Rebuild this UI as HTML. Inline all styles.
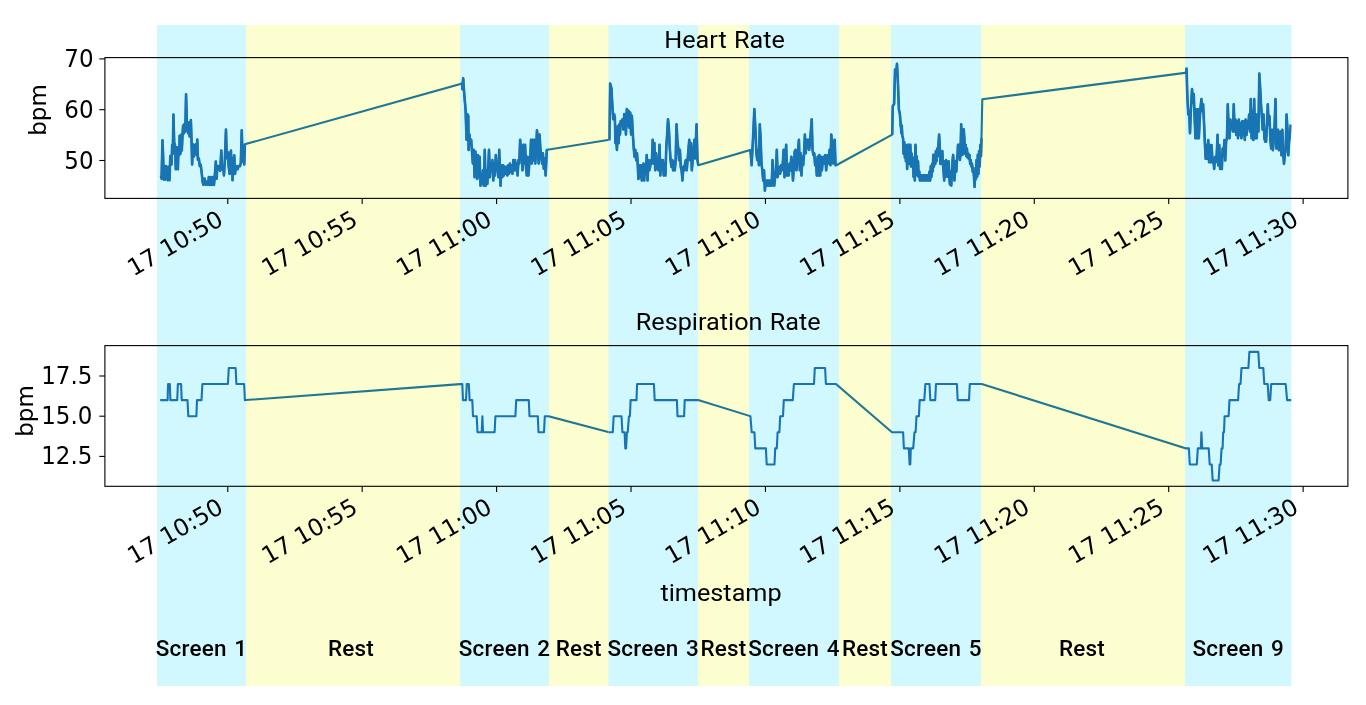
<!DOCTYPE html>
<html><head><meta charset="utf-8"><title>Heart Rate and Respiration Rate</title><style>
html,body{margin:0;padding:0;background:#fff;width:1366px;height:705px;overflow:hidden}
svg{position:absolute;left:0;top:0;display:block}
.dv{font-family:"DejaVu Sans","Liberation Sans",sans-serif;font-size:23px;fill:#000}
.xl{font-size:23.6px}
.rb{font-family:Roboto,"Liberation Sans",sans-serif;fill:#000;font-size:23.8px;letter-spacing:0px;word-spacing:1px}
.bl{font-family:Roboto,"Liberation Sans",sans-serif;fill:#000;font-size:21.6px;font-weight:500;letter-spacing:0.25px;word-spacing:1.5px}
.ax{fill:none;stroke:#000;stroke-width:1.1}
.tk{stroke:#000;stroke-width:1.1}
.ln{fill:none;stroke-width:2.1;stroke-linejoin:round;stroke-linecap:butt}
.ln2{stroke-width:2.6}
</style></head><body>
<svg width="1366" height="705" viewBox="0 0 1366 705">
<rect x="0" y="0" width="1366" height="705" fill="#fff"/>
<defs><clipPath id="cc"><rect x="157" y="25" width="89" height="661"/><rect x="460" y="25" width="89" height="661"/><rect x="608.5" y="25" width="89.5" height="661"/><rect x="749" y="25" width="90" height="661"/><rect x="891" y="25" width="90" height="661"/><rect x="1185" y="25" width="106.4" height="661"/></clipPath><clipPath id="cy"><rect x="246" y="25" width="214" height="661"/><rect x="549" y="25" width="59.5" height="661"/><rect x="698" y="25" width="51" height="661"/><rect x="839" y="25" width="52" height="661"/><rect x="981" y="25" width="204" height="661"/></clipPath></defs>
<g fill="#fcfed0"><rect x="245" y="25" width="216" height="661"/><rect x="548" y="25" width="61.5" height="661"/><rect x="697" y="25" width="53" height="661"/><rect x="838" y="25" width="54" height="661"/><rect x="980" y="25" width="206" height="661"/></g>
<g fill="#d0f8fe"><rect x="157" y="25" width="89" height="661"/><rect x="460" y="25" width="89" height="661"/><rect x="608.5" y="25" width="89.5" height="661"/><rect x="749" y="25" width="90" height="661"/><rect x="891" y="25" width="90" height="661"/><rect x="1185" y="25" width="106.4" height="661"/></g>
<rect class="ax" x="104.9" y="57.6" width="1243" height="140.8"/>
<rect class="ax" x="104.9" y="345.6" width="1243" height="140.7"/>
<line class="tk" x1="227.76" y1="198.4" x2="227.76" y2="204"/>
<text class="dv xl" text-anchor="end" transform="translate(224.76,223.9) rotate(-30)">17 10:50</text>
<line class="tk" x1="362.18" y1="198.4" x2="362.18" y2="204"/>
<text class="dv xl" text-anchor="end" transform="translate(359.18,223.9) rotate(-30)">17 10:55</text>
<line class="tk" x1="496.6" y1="198.4" x2="496.6" y2="204"/>
<text class="dv xl" text-anchor="end" transform="translate(493.6,223.9) rotate(-30)">17 11:00</text>
<line class="tk" x1="631.02" y1="198.4" x2="631.02" y2="204"/>
<text class="dv xl" text-anchor="end" transform="translate(628.02,223.9) rotate(-30)">17 11:05</text>
<line class="tk" x1="765.44" y1="198.4" x2="765.44" y2="204"/>
<text class="dv xl" text-anchor="end" transform="translate(762.44,223.9) rotate(-30)">17 11:10</text>
<line class="tk" x1="899.86" y1="198.4" x2="899.86" y2="204"/>
<text class="dv xl" text-anchor="end" transform="translate(896.86,223.9) rotate(-30)">17 11:15</text>
<line class="tk" x1="1034.28" y1="198.4" x2="1034.28" y2="204"/>
<text class="dv xl" text-anchor="end" transform="translate(1031.28,223.9) rotate(-30)">17 11:20</text>
<line class="tk" x1="1168.7" y1="198.4" x2="1168.7" y2="204"/>
<text class="dv xl" text-anchor="end" transform="translate(1165.7,223.9) rotate(-30)">17 11:25</text>
<line class="tk" x1="1303.12" y1="198.4" x2="1303.12" y2="204"/>
<text class="dv xl" text-anchor="end" transform="translate(1300.12,223.9) rotate(-30)">17 11:30</text>
<line class="tk" x1="227.76" y1="486.3" x2="227.76" y2="491.9"/>
<text class="dv xl" text-anchor="end" transform="translate(224.76,511.8) rotate(-30)">17 10:50</text>
<line class="tk" x1="362.18" y1="486.3" x2="362.18" y2="491.9"/>
<text class="dv xl" text-anchor="end" transform="translate(359.18,511.8) rotate(-30)">17 10:55</text>
<line class="tk" x1="496.6" y1="486.3" x2="496.6" y2="491.9"/>
<text class="dv xl" text-anchor="end" transform="translate(493.6,511.8) rotate(-30)">17 11:00</text>
<line class="tk" x1="631.02" y1="486.3" x2="631.02" y2="491.9"/>
<text class="dv xl" text-anchor="end" transform="translate(628.02,511.8) rotate(-30)">17 11:05</text>
<line class="tk" x1="765.44" y1="486.3" x2="765.44" y2="491.9"/>
<text class="dv xl" text-anchor="end" transform="translate(762.44,511.8) rotate(-30)">17 11:10</text>
<line class="tk" x1="899.86" y1="486.3" x2="899.86" y2="491.9"/>
<text class="dv xl" text-anchor="end" transform="translate(896.86,511.8) rotate(-30)">17 11:15</text>
<line class="tk" x1="1034.28" y1="486.3" x2="1034.28" y2="491.9"/>
<text class="dv xl" text-anchor="end" transform="translate(1031.28,511.8) rotate(-30)">17 11:20</text>
<line class="tk" x1="1168.7" y1="486.3" x2="1168.7" y2="491.9"/>
<text class="dv xl" text-anchor="end" transform="translate(1165.7,511.8) rotate(-30)">17 11:25</text>
<line class="tk" x1="1303.12" y1="486.3" x2="1303.12" y2="491.9"/>
<text class="dv xl" text-anchor="end" transform="translate(1300.12,511.8) rotate(-30)">17 11:30</text>
<line class="tk" x1="99.3" y1="58.9" x2="104.9" y2="58.9"/>
<text class="dv" text-anchor="end" transform="translate(93.6,67.4) scale(1,1.05)">70</text>
<line class="tk" x1="99.3" y1="109.7" x2="104.9" y2="109.7"/>
<text class="dv" text-anchor="end" transform="translate(93.6,118.2) scale(1,1.05)">60</text>
<line class="tk" x1="99.3" y1="160.5" x2="104.9" y2="160.5"/>
<text class="dv" text-anchor="end" transform="translate(93.6,169) scale(1,1.05)">50</text>
<line class="tk" x1="99.3" y1="376" x2="104.9" y2="376"/>
<text class="dv" text-anchor="end" transform="translate(92.4,384) scale(1,1.05)">17.5</text>
<line class="tk" x1="99.3" y1="416.2" x2="104.9" y2="416.2"/>
<text class="dv" text-anchor="end" transform="translate(92.4,424.2) scale(1,1.05)">15.0</text>
<line class="tk" x1="99.3" y1="456.4" x2="104.9" y2="456.4"/>
<text class="dv" text-anchor="end" transform="translate(92.4,464.4) scale(1,1.05)">12.5</text>
<text class="dv" text-anchor="middle" transform="translate(45.5,110) rotate(-90)">bpm</text>
<text class="dv" text-anchor="middle" transform="translate(32.5,411) rotate(-90)">bpm</text>
<text class="rb" text-anchor="middle" transform="translate(724.6,47.8) scale(1.06,1.0)" textLength="113.86" lengthAdjust="spacingAndGlyphs">Heart Rate</text>
<text class="rb" text-anchor="middle" transform="translate(728.2,329.5) scale(1.06,1.0)" textLength="174.43" lengthAdjust="spacingAndGlyphs">Respiration Rate</text>
<text class="rb" text-anchor="middle" transform="translate(721.05,601.4) scale(1.06,1.0)" textLength="114.29" lengthAdjust="spacingAndGlyphs">timestamp</text>
<g clip-path="url(#cc)" stroke="#1974b3">
<polyline class="ln" points="160.93,175.48 161.55,178.6 162.49,140.38 163.11,155.2 163.74,179.38 164.67,166.12 165.3,179.38 166.23,166.12 167.17,169.24 167.79,180.16 168.73,166.9 169.51,180.16 170.29,155.98 171.07,158.32 171.54,164.56 172.16,145.06 172.78,153.64 173.41,114.64 174.34,147.4 174.97,144.28 175.75,169.24 176.37,147.4 177.15,158.32 177.93,169.24 178.4,147.4 179.18,155.2 179.65,135.7 180.43,153.64 181.05,134.92 181.83,150.52 182.46,136.48 183.08,125.56 183.86,133.36 184.49,124 185.27,131.8 186.05,94.36 186.83,120.88 187.61,128.68 188.23,133.36 188.85,122.44 189.63,136.48 190.26,131.8 190.88,120.1 191.51,139.6 192.13,164.56 192.91,144.28 193.69,156.76 194.31,145.84 194.94,150.52 195.72,144.28 196.5,155.2 197.28,139.6 197.9,159.88 198.84,158.32 199.77,166.12 200.71,164.56 201.65,172.36 202.58,181.72 203.36,184.84 204.61,178.6 205.7,184.84 206.95,181.72 208.04,184.84 208.82,177.04 209.91,184.84 210.85,177.04 211.94,184.84 213.19,177.04 213.97,184.84 215.06,172.36 215.84,161.44 216.62,178.6 217.4,166.12 218.18,169.24 218.96,166.12 220.21,170.8 221.3,150.52 222.08,169.24 223.17,166.12 223.95,175.48 224.73,163 225.98,129.46 226.76,158.32 227.7,152.08 228.63,166.12 229.57,173.92 230.2,153.64 230.98,150.52 231.44,172.36 232.07,158.32 232.54,180.16 233.32,159.88 234.25,155.2 235.03,173.92 235.81,167.68 236.75,166.12 237.68,169.24 238.46,166.12 240.02,166.12 240.8,163 241.74,130.24 242.68,161.44 243.46,158.32 244.24,164.56 244.86,144.28 460.9,83.8 462.3,83.6 462.3,89.1 463.16,78.4 464.35,95.43 465.54,109.04 466.56,139.68 467.24,114.15 468.27,115.85 468.61,149.89 469.46,134.57 470.31,143.09 471.16,139.68 472.01,151.6 472.86,163.51 473.71,149.89 474.56,177.13 475.41,151.6 476.26,163.51 477.11,178.83 477.96,155 478.81,177.13 479.66,156.7 480.51,185.64 481.36,173.72 482.21,183.94 483.06,170.32 483.91,185.64 484.76,149.89 485.61,185.64 486.46,170.32 487.31,183.94 488.16,170.32 489.01,149.89 489.86,177.13 490.71,163.51 491.56,170.32 492.41,160.11 493.27,180.53 494.12,163.51 494.97,175.43 495.82,155 496.67,170.32 497.52,165.21 498.37,177.13 499.22,149.89 500.07,170.32 500.58,185.64 501.26,165.21 502.28,177.13 503.13,165.21 503.98,175.43 504.83,166.91 505.68,173.72 506.53,166.91 507.38,175.43 508.23,165.21 509.08,173.72 509.93,163.51 510.78,172.02 511.63,165.21 512.48,173.72 513.33,160.11 514.18,170.32 515.03,160.11 515.88,170.32 516.73,163.51 517.59,175.43 518.44,160.11 519.29,163.51 520.14,139.68 520.99,149.89 521.84,155 522.52,170.32 523.37,144.79 524.22,163.51 525.07,144.79 525.92,166.91 526.77,175.43 527.62,156.7 528.47,175.43 529.32,163.51 530.17,160.11 531.02,139.68 531.87,163.51 532.72,139.68 533.57,160.11 534.42,139.68 535.27,163.51 536.12,149.89 536.97,130.32 537.82,139.68 538.67,163.51 539.52,134.57 540.37,148.19 541.22,156.7 542.07,163.51 542.93,153.3 543.78,168.62 544.63,158.4 545.65,175.43 546.8,149.9 609.4,139.7 610.13,83.51 611.49,88.62 612.34,105.64 613.19,119.26 614.04,114.15 614.89,117.55 615.4,143.09 616.26,139.68 616.94,149.89 617.79,126.06 618.64,143.09 619.32,124.36 620,134.57 620.68,120.96 621.7,124.36 622.55,119.26 623.4,129.47 624.26,114.15 625.11,117.55 625.96,134.57 626.81,109.04 627.66,126.06 628.51,110.74 629.36,127.77 630.21,112.45 631.06,134.57 631.91,115.85 632.77,132.87 633.62,146.49 634.47,156.7 635.32,149.89 636.17,160.11 637.02,153.3 637.87,166.91 638.38,178.83 639.23,165.21 640.09,177.13 640.94,165.21 641.79,180.53 642.64,170.32 643.49,163.51 644.17,180.53 645.02,165.21 645.87,173.72 646.72,155 647.57,180.53 648.43,160.11 649.28,170.32 650.13,166.91 650.98,160.11 651.83,163.51 652.68,139.68 653.53,163.51 654.38,143.09 655.23,170.32 656.09,153.3 656.94,168.62 657.79,158.4 658.64,170.32 659.49,144.79 660.34,175.43 661.19,160.11 662.04,168.62 662.89,160.11 663.74,175.43 664.6,163.51 665.45,175.43 666.3,146.49 667.15,134.57 668,119.26 668.85,127.77 669.7,146.49 670.55,160.11 671.4,166.91 672.26,160.11 673.11,170.32 673.96,161.81 674.81,170.32 675.66,160.11 676.51,124.36 677.36,139.68 678.21,148.19 679.06,160.11 679.91,149.89 680.77,166.91 681.62,170.32 682.47,180.53 683.32,166.91 684.17,170.32 685.02,163.51 685.87,160.11 686.72,170.32 687.57,160.11 688.43,149.89 689.28,139.68 690.13,160.11 690.98,143.09 691.83,170.32 692.68,160.11 693.53,149.89 694.38,139.68 695.23,158.4 696.09,134.57 696.6,124.36 697.45,160.11 698.3,165.21 750.43,149.89 751.62,165.21 752.98,139.68 754.34,109.04 755.53,131.17 756.38,153.3 757.23,160.11 758.09,149.89 758.94,165.21 759.79,124.36 760.64,139.68 761.49,163.51 762.34,170.32 763.19,180.53 764.04,170.32 764.89,190.74 765.74,180.53 766.6,185.64 767.45,180.53 768.3,185.64 769.15,180.53 770,185.64 770.85,180.53 771.7,185.64 772.55,160.11 773.4,177.13 774.26,185.64 775.11,177.13 775.96,170.32 776.81,149.89 777.66,177.13 778.51,170.32 779.36,166.91 780.21,173.72 781.06,165.21 781.91,170.32 782.77,163.51 783.62,149.89 784.47,177.13 785.32,156.7 786.17,144.79 787.02,175.43 787.87,165.21 788.72,175.43 789.57,163.51 790.43,170.32 791.28,156.7 792.13,163.51 792.98,180.53 793.83,166.91 794.68,151.6 795.53,149.89 796.38,170.32 797.23,161.81 798.09,149.89 798.94,139.68 799.79,170.32 800.64,153.3 801.49,175.43 802.34,156.7 803.19,165.21 804.04,153.3 804.89,134.57 805.74,153.3 806.6,139.68 807.45,148.19 808.3,139.68 809.15,149.89 810,143.09 810.85,131.17 811.7,119.26 812.55,149.89 813.4,155 814.26,153.3 815.11,165.21 815.96,160.11 816.81,175.43 817.66,156.7 818.51,175.43 819.36,155 820.21,175.43 821.06,156.7 821.91,170.32 822.77,160.11 823.62,156.7 824.47,163.51 825.32,155 826.17,170.32 827.02,160.11 827.87,155 828.72,163.51 829.57,149.89 830.43,165.21 831.28,134.57 832.13,143.09 832.98,163.51 833.83,149.89 834.68,139.68 835.53,165.21 836.38,165.21 892.2,134.68 892.78,105.96 894.11,104.04 895.07,69.57 896.03,75.32 896.99,63.83 897.94,82.98 898.9,109.79 899.86,113.62 900.81,127.02 900.77,122.99 901.41,133.21 901.79,125.54 902.3,135.76 903.07,138.31 903.58,153.64 904.22,142.15 904.86,157.47 905.37,144.7 905.88,161.3 906.52,148.53 907.16,168.97 907.8,144.7 908.43,160.03 909.07,144.7 909.71,163.86 910.35,144.7 910.99,166.41 911.63,153.64 912.27,161.3 912.9,157.47 913.54,176.63 914.18,163.86 914.82,180.46 915.46,144.7 916.1,166.41 916.74,156.19 917.37,175.35 918.01,161.3 918.65,176.63 919.29,171.52 919.93,180.46 920.57,175.35 921.21,180.46 921.84,175.35 922.48,180.46 923.12,175.35 923.76,180.46 924.4,175.35 925.04,180.46 925.68,175.35 926.31,180.46 926.95,175.35 927.59,180.46 928.23,175.35 928.87,180.46 929.51,171.52 930.15,180.46 930.78,166.41 931.42,176.63 932.06,163.86 932.7,171.52 933.34,154.92 933.98,166.41 934.62,156.19 935.25,163.86 935.89,151.09 936.53,161.3 937.17,148.53 937.81,156.19 938.45,144.7 939.09,134.48 939.72,145.98 940.36,163.86 941,151.09 941.64,161.3 942.28,151.09 942.92,163.86 943.56,171.52 944.19,180.46 944.83,161.3 945.47,176.63 946.11,160.03 946.75,171.52 947.39,176.63 948.03,166.41 948.66,161.3 949.3,176.63 949.94,184.29 950.58,171.52 951.22,185.57 951.86,174.07 952.5,161.3 953.13,154.92 953.77,166.41 954.41,180.46 955.05,171.52 955.69,161.3 956.33,171.52 956.97,160.03 957.6,153.64 957.99,144.7 958.63,154.92 959.26,144.7 959.9,160.03 960.54,153.64 961.18,124.27 961.82,138.31 962.46,154.92 963.1,148.53 963.73,129.37 964.37,138.31 965.01,153.64 965.65,144.7 966.29,156.19 966.93,148.53 967.57,157.47 968.2,153.64 968.84,158.75 969.48,154.92 970.12,163.86 970.76,160.03 971.4,166.41 972.04,163.86 972.67,171.52 973.31,167.69 973.95,176.63 974.59,186.85 975.23,171.52 975.87,179.18 976.51,160.03 977.14,176.63 977.78,154.92 978.42,174.07 979.06,151.09 979.7,166.41 980.34,144.7 980.98,156.19 981.49,138.31 982.3,99.3 1186.07,72.77 1186.58,68.51 1187.26,94.04 1188.28,114.47 1189.13,111.06 1189.99,133.19 1190.84,111.06 1192.03,88.94 1192.88,102.55 1193.73,94.04 1194.58,116.17 1195.44,138.3 1196.29,109.36 1197.14,138.3 1197.99,109.36 1198.84,138.3 1199.69,119.57 1200.54,107.66 1201.4,99.15 1202.25,111.06 1203.1,104.26 1203.95,121.28 1204.8,141.7 1205.65,158.72 1206.51,145.11 1207.36,158.72 1208.21,140 1209.06,162.13 1209.91,145.11 1210.76,162.13 1211.61,145.11 1212.47,162.13 1213.32,158.72 1214.17,168.94 1215.02,157.02 1215.87,162.13 1216.72,155.32 1217.57,134.89 1218.43,165.53 1219.28,145.11 1220.13,168.94 1220.98,155.32 1221.83,168.94 1222.68,148.51 1223.54,155.32 1224.39,140 1225.24,160.43 1226.09,141.7 1226.94,138.3 1227.79,104.26 1228.64,128.09 1229.5,138.3 1230.35,119.57 1231.2,128.09 1232.05,124.68 1232.9,131.49 1233.75,104.26 1234.6,131.49 1235.46,119.57 1236.31,134.89 1237.16,121.28 1238.01,138.3 1238.86,119.57 1239.71,134.89 1240.57,122.98 1241.42,138.3 1242.27,121.28 1243.12,134.89 1243.97,121.28 1244.82,140 1245.67,119.57 1246.53,134.89 1247.38,121.28 1248.23,128.09 1249.08,114.47 1249.93,131.49 1250.78,99.15 1251.63,138.3 1252.49,111.06 1253.34,140 1254.19,99.15 1255.04,138.3 1255.89,114.47 1256.74,138.3 1257.6,114.47 1258.45,131.49 1259.3,73.62 1260.15,87.23 1261,104.26 1261.85,116.17 1262.7,129.79 1263.56,114.47 1264.41,138.3 1265.26,141.7 1266.11,141.7 1266.96,124.68 1267.81,104.26 1268.66,124.68 1269.52,116.17 1270.37,140 1271.22,148.51 1272.07,129.79 1272.92,150.21 1273.77,138.3 1274.63,124.68 1275.48,99.15 1276.33,148.51 1277.18,140 1278.03,129.79 1278.88,150.21 1279.73,145.11 1280.59,131.49 1281.44,155.32 1282.29,129.79 1283.14,151.91 1283.99,163.83 1284.84,155.32 1285.69,148.51 1286.55,114.47 1287.4,128.09 1288.25,155.32 1289.1,141.7 1289.95,134.89 1290.8,124.68"/>
<polyline class="ln ln2" points="160.93,175.48 161.55,178.6 162.49,140.38 163.11,155.2 163.74,179.38 164.67,166.12 165.3,179.38 166.23,166.12 167.17,169.24 167.79,180.16 168.73,166.9 169.51,180.16 170.29,155.98 171.07,158.32 171.54,164.56 172.16,145.06 172.78,153.64 173.41,114.64 174.34,147.4 174.97,144.28 175.75,169.24 176.37,147.4 177.15,158.32 177.93,169.24 178.4,147.4 179.18,155.2 179.65,135.7 180.43,153.64 181.05,134.92 181.83,150.52 182.46,136.48 183.08,125.56 183.86,133.36 184.49,124 185.27,131.8 186.05,94.36 186.83,120.88 187.61,128.68 188.23,133.36 188.85,122.44 189.63,136.48 190.26,131.8 190.88,120.1 191.51,139.6 192.13,164.56 192.91,144.28 193.69,156.76 194.31,145.84 194.94,150.52 195.72,144.28 196.5,155.2 197.28,139.6 197.9,159.88 198.84,158.32 199.77,166.12 200.71,164.56 201.65,172.36 202.58,181.72 203.36,184.84 204.61,178.6 205.7,184.84 206.95,181.72 208.04,184.84 208.82,177.04 209.91,184.84 210.85,177.04 211.94,184.84 213.19,177.04 213.97,184.84 215.06,172.36 215.84,161.44 216.62,178.6 217.4,166.12 218.18,169.24 218.96,166.12 220.21,170.8 221.3,150.52 222.08,169.24 223.17,166.12 223.95,175.48 224.73,163 225.98,129.46 226.76,158.32 227.7,152.08 228.63,166.12 229.57,173.92 230.2,153.64 230.98,150.52 231.44,172.36 232.07,158.32 232.54,180.16 233.32,159.88 234.25,155.2 235.03,173.92 235.81,167.68 236.75,166.12 237.68,169.24 238.46,166.12 240.02,166.12 240.8,163 241.74,130.24 242.68,161.44 243.46,158.32 244.24,164.56 244.86,144.28"/>
<polyline class="ln ln2" points="460.9,83.8 462.3,83.6 462.3,89.1 463.16,78.4 464.35,95.43 465.54,109.04 466.56,139.68 467.24,114.15 468.27,115.85 468.61,149.89 469.46,134.57 470.31,143.09 471.16,139.68 472.01,151.6 472.86,163.51 473.71,149.89 474.56,177.13 475.41,151.6 476.26,163.51 477.11,178.83 477.96,155 478.81,177.13 479.66,156.7 480.51,185.64 481.36,173.72 482.21,183.94 483.06,170.32 483.91,185.64 484.76,149.89 485.61,185.64 486.46,170.32 487.31,183.94 488.16,170.32 489.01,149.89 489.86,177.13 490.71,163.51 491.56,170.32 492.41,160.11 493.27,180.53 494.12,163.51 494.97,175.43 495.82,155 496.67,170.32 497.52,165.21 498.37,177.13 499.22,149.89 500.07,170.32 500.58,185.64 501.26,165.21 502.28,177.13 503.13,165.21 503.98,175.43 504.83,166.91 505.68,173.72 506.53,166.91 507.38,175.43 508.23,165.21 509.08,173.72 509.93,163.51 510.78,172.02 511.63,165.21 512.48,173.72 513.33,160.11 514.18,170.32 515.03,160.11 515.88,170.32 516.73,163.51 517.59,175.43 518.44,160.11 519.29,163.51 520.14,139.68 520.99,149.89 521.84,155 522.52,170.32 523.37,144.79 524.22,163.51 525.07,144.79 525.92,166.91 526.77,175.43 527.62,156.7 528.47,175.43 529.32,163.51 530.17,160.11 531.02,139.68 531.87,163.51 532.72,139.68 533.57,160.11 534.42,139.68 535.27,163.51 536.12,149.89 536.97,130.32 537.82,139.68 538.67,163.51 539.52,134.57 540.37,148.19 541.22,156.7 542.07,163.51 542.93,153.3 543.78,168.62 544.63,158.4 545.65,175.43 546.8,149.9"/>
<polyline class="ln ln2" points="609.4,139.7 610.13,83.51 611.49,88.62 612.34,105.64 613.19,119.26 614.04,114.15 614.89,117.55 615.4,143.09 616.26,139.68 616.94,149.89 617.79,126.06 618.64,143.09 619.32,124.36 620,134.57 620.68,120.96 621.7,124.36 622.55,119.26 623.4,129.47 624.26,114.15 625.11,117.55 625.96,134.57 626.81,109.04 627.66,126.06 628.51,110.74 629.36,127.77 630.21,112.45 631.06,134.57 631.91,115.85 632.77,132.87 633.62,146.49 634.47,156.7 635.32,149.89 636.17,160.11 637.02,153.3 637.87,166.91 638.38,178.83 639.23,165.21 640.09,177.13 640.94,165.21 641.79,180.53 642.64,170.32 643.49,163.51 644.17,180.53 645.02,165.21 645.87,173.72 646.72,155 647.57,180.53 648.43,160.11 649.28,170.32 650.13,166.91 650.98,160.11 651.83,163.51 652.68,139.68 653.53,163.51 654.38,143.09 655.23,170.32 656.09,153.3 656.94,168.62 657.79,158.4 658.64,170.32 659.49,144.79 660.34,175.43 661.19,160.11 662.04,168.62 662.89,160.11 663.74,175.43 664.6,163.51 665.45,175.43 666.3,146.49 667.15,134.57 668,119.26 668.85,127.77 669.7,146.49 670.55,160.11 671.4,166.91 672.26,160.11 673.11,170.32 673.96,161.81 674.81,170.32 675.66,160.11 676.51,124.36 677.36,139.68 678.21,148.19 679.06,160.11 679.91,149.89 680.77,166.91 681.62,170.32 682.47,180.53 683.32,166.91 684.17,170.32 685.02,163.51 685.87,160.11 686.72,170.32 687.57,160.11 688.43,149.89 689.28,139.68 690.13,160.11 690.98,143.09 691.83,170.32 692.68,160.11 693.53,149.89 694.38,139.68 695.23,158.4 696.09,134.57 696.6,124.36 697.45,160.11 698.3,165.21"/>
<polyline class="ln ln2" points="750.43,149.89 751.62,165.21 752.98,139.68 754.34,109.04 755.53,131.17 756.38,153.3 757.23,160.11 758.09,149.89 758.94,165.21 759.79,124.36 760.64,139.68 761.49,163.51 762.34,170.32 763.19,180.53 764.04,170.32 764.89,190.74 765.74,180.53 766.6,185.64 767.45,180.53 768.3,185.64 769.15,180.53 770,185.64 770.85,180.53 771.7,185.64 772.55,160.11 773.4,177.13 774.26,185.64 775.11,177.13 775.96,170.32 776.81,149.89 777.66,177.13 778.51,170.32 779.36,166.91 780.21,173.72 781.06,165.21 781.91,170.32 782.77,163.51 783.62,149.89 784.47,177.13 785.32,156.7 786.17,144.79 787.02,175.43 787.87,165.21 788.72,175.43 789.57,163.51 790.43,170.32 791.28,156.7 792.13,163.51 792.98,180.53 793.83,166.91 794.68,151.6 795.53,149.89 796.38,170.32 797.23,161.81 798.09,149.89 798.94,139.68 799.79,170.32 800.64,153.3 801.49,175.43 802.34,156.7 803.19,165.21 804.04,153.3 804.89,134.57 805.74,153.3 806.6,139.68 807.45,148.19 808.3,139.68 809.15,149.89 810,143.09 810.85,131.17 811.7,119.26 812.55,149.89 813.4,155 814.26,153.3 815.11,165.21 815.96,160.11 816.81,175.43 817.66,156.7 818.51,175.43 819.36,155 820.21,175.43 821.06,156.7 821.91,170.32 822.77,160.11 823.62,156.7 824.47,163.51 825.32,155 826.17,170.32 827.02,160.11 827.87,155 828.72,163.51 829.57,149.89 830.43,165.21 831.28,134.57 832.13,143.09 832.98,163.51 833.83,149.89 834.68,139.68 835.53,165.21 836.38,165.21"/>
<polyline class="ln ln2" points="892.2,134.68 892.78,105.96 894.11,104.04 895.07,69.57 896.03,75.32 896.99,63.83 897.94,82.98 898.9,109.79 899.86,113.62 900.81,127.02 900.77,122.99 901.41,133.21 901.79,125.54 902.3,135.76 903.07,138.31 903.58,153.64 904.22,142.15 904.86,157.47 905.37,144.7 905.88,161.3 906.52,148.53 907.16,168.97 907.8,144.7 908.43,160.03 909.07,144.7 909.71,163.86 910.35,144.7 910.99,166.41 911.63,153.64 912.27,161.3 912.9,157.47 913.54,176.63 914.18,163.86 914.82,180.46 915.46,144.7 916.1,166.41 916.74,156.19 917.37,175.35 918.01,161.3 918.65,176.63 919.29,171.52 919.93,180.46 920.57,175.35 921.21,180.46 921.84,175.35 922.48,180.46 923.12,175.35 923.76,180.46 924.4,175.35 925.04,180.46 925.68,175.35 926.31,180.46 926.95,175.35 927.59,180.46 928.23,175.35 928.87,180.46 929.51,171.52 930.15,180.46 930.78,166.41 931.42,176.63 932.06,163.86 932.7,171.52 933.34,154.92 933.98,166.41 934.62,156.19 935.25,163.86 935.89,151.09 936.53,161.3 937.17,148.53 937.81,156.19 938.45,144.7 939.09,134.48 939.72,145.98 940.36,163.86 941,151.09 941.64,161.3 942.28,151.09 942.92,163.86 943.56,171.52 944.19,180.46 944.83,161.3 945.47,176.63 946.11,160.03 946.75,171.52 947.39,176.63 948.03,166.41 948.66,161.3 949.3,176.63 949.94,184.29 950.58,171.52 951.22,185.57 951.86,174.07 952.5,161.3 953.13,154.92 953.77,166.41 954.41,180.46 955.05,171.52 955.69,161.3 956.33,171.52 956.97,160.03 957.6,153.64 957.99,144.7 958.63,154.92 959.26,144.7 959.9,160.03 960.54,153.64 961.18,124.27 961.82,138.31 962.46,154.92 963.1,148.53 963.73,129.37 964.37,138.31 965.01,153.64 965.65,144.7 966.29,156.19 966.93,148.53 967.57,157.47 968.2,153.64 968.84,158.75 969.48,154.92 970.12,163.86 970.76,160.03 971.4,166.41 972.04,163.86 972.67,171.52 973.31,167.69 973.95,176.63 974.59,186.85 975.23,171.52 975.87,179.18 976.51,160.03 977.14,176.63 977.78,154.92 978.42,174.07 979.06,151.09 979.7,166.41 980.34,144.7 980.98,156.19 981.49,138.31"/>
<polyline class="ln ln2" points="1186.07,72.77 1186.58,68.51 1187.26,94.04 1188.28,114.47 1189.13,111.06 1189.99,133.19 1190.84,111.06 1192.03,88.94 1192.88,102.55 1193.73,94.04 1194.58,116.17 1195.44,138.3 1196.29,109.36 1197.14,138.3 1197.99,109.36 1198.84,138.3 1199.69,119.57 1200.54,107.66 1201.4,99.15 1202.25,111.06 1203.1,104.26 1203.95,121.28 1204.8,141.7 1205.65,158.72 1206.51,145.11 1207.36,158.72 1208.21,140 1209.06,162.13 1209.91,145.11 1210.76,162.13 1211.61,145.11 1212.47,162.13 1213.32,158.72 1214.17,168.94 1215.02,157.02 1215.87,162.13 1216.72,155.32 1217.57,134.89 1218.43,165.53 1219.28,145.11 1220.13,168.94 1220.98,155.32 1221.83,168.94 1222.68,148.51 1223.54,155.32 1224.39,140 1225.24,160.43 1226.09,141.7 1226.94,138.3 1227.79,104.26 1228.64,128.09 1229.5,138.3 1230.35,119.57 1231.2,128.09 1232.05,124.68 1232.9,131.49 1233.75,104.26 1234.6,131.49 1235.46,119.57 1236.31,134.89 1237.16,121.28 1238.01,138.3 1238.86,119.57 1239.71,134.89 1240.57,122.98 1241.42,138.3 1242.27,121.28 1243.12,134.89 1243.97,121.28 1244.82,140 1245.67,119.57 1246.53,134.89 1247.38,121.28 1248.23,128.09 1249.08,114.47 1249.93,131.49 1250.78,99.15 1251.63,138.3 1252.49,111.06 1253.34,140 1254.19,99.15 1255.04,138.3 1255.89,114.47 1256.74,138.3 1257.6,114.47 1258.45,131.49 1259.3,73.62 1260.15,87.23 1261,104.26 1261.85,116.17 1262.7,129.79 1263.56,114.47 1264.41,138.3 1265.26,141.7 1266.11,141.7 1266.96,124.68 1267.81,104.26 1268.66,124.68 1269.52,116.17 1270.37,140 1271.22,148.51 1272.07,129.79 1272.92,150.21 1273.77,138.3 1274.63,124.68 1275.48,99.15 1276.33,148.51 1277.18,140 1278.03,129.79 1278.88,150.21 1279.73,145.11 1280.59,131.49 1281.44,155.32 1282.29,129.79 1283.14,151.91 1283.99,163.83 1284.84,155.32 1285.69,148.51 1286.55,114.47 1287.4,128.09 1288.25,155.32 1289.1,141.7 1289.95,134.89 1290.8,124.68"/>
<polyline class="ln" points="160.2,400.12 167.6,400.12 168.1,384.04 169.8,384.04 170.4,400.12 177.2,400.12 177.9,384.04 181.1,384.04 181.7,400.12 187.5,400.12 188.3,416.2 196.4,416.2 197,400.12 201.5,400.12 202.4,384.04 227.9,384.04 228.8,367.96 235.6,367.96 236.4,384.04 244.1,384.04 244.9,400.12 461.3,384.04 462.3,384.04 463,400.12 466,400.12 466.8,384.04 468.8,384.04 469.6,400.12 472.3,400.12 473,416.2 476.7,416.2 477.5,432.28 481.7,432.28 482.4,416.2 483,432.28 494.6,432.28 495.4,416.2 515.4,416.2 516.2,400.12 528.8,400.12 529.5,416.2 537.8,416.2 538.5,432.28 544,432.28 544.8,416.2 548.2,416.2 609.1,432.28 612.8,432.28 613.7,416.2 621.5,416.2 622.4,432.28 624.6,432.28 625.3,448.36 626.1,448.36 626.9,432.28 627.7,432.28 629,416.2 629.9,416.2 630.6,400.12 636.5,400.12 637.1,384.04 653.9,384.04 654.7,400.12 676.9,400.12 677.5,416.2 684.1,416.2 684.7,400.12 698.1,400.12 750.4,416.2 751.7,432.28 754.4,432.28 755.3,448.36 765.9,448.36 766.7,464.44 774.5,464.44 775.2,448.36 776.8,448.36 777.6,432.28 779.4,432.28 780.2,416.2 783,416.2 783.8,400.12 792.8,400.12 793.9,384.04 814,384.04 814.8,367.96 825.1,367.96 825.9,384.04 836,384.04 892,432.28 903.1,432.28 903.9,448.36 908.8,448.36 909.6,464.44 910.3,464.44 910.8,448.36 913.2,448.36 914.5,432.28 915.6,432.28 916.5,416.2 918.9,416.2 919.7,400.12 924.3,400.12 925.4,384.04 929.5,384.04 930.3,400.12 935.2,400.12 936,384.04 956.9,384.04 957.7,400.12 969,400.12 969.8,384.04 981.7,384.04 1185.9,448.36 1188.9,448.36 1189.8,464.44 1196.8,464.44 1197.8,448.36 1200.8,448.36 1201.4,432.28 1202.2,448.36 1208.7,448.36 1209.7,464.44 1211.7,464.44 1212.7,480.52 1218.6,480.52 1219.6,464.44 1220.6,464.44 1221.6,448.36 1222.6,448.36 1223.2,432.28 1224,432.28 1224.6,416.2 1228.6,416.2 1229.5,400.12 1238.1,400.12 1239.1,384.04 1240.5,384.04 1241.5,367.96 1248.4,367.96 1249.4,351.88 1258.3,351.88 1259.3,367.96 1263.3,367.96 1264.3,384.04 1267.7,384.04 1268.7,400.12 1270.2,400.12 1271.2,384.04 1285.7,384.04 1287.1,400.12 1291.5,400.12"/>
</g>
<g clip-path="url(#cy)" stroke="#1f7793">
<polyline class="ln" points="160.93,175.48 161.55,178.6 162.49,140.38 163.11,155.2 163.74,179.38 164.67,166.12 165.3,179.38 166.23,166.12 167.17,169.24 167.79,180.16 168.73,166.9 169.51,180.16 170.29,155.98 171.07,158.32 171.54,164.56 172.16,145.06 172.78,153.64 173.41,114.64 174.34,147.4 174.97,144.28 175.75,169.24 176.37,147.4 177.15,158.32 177.93,169.24 178.4,147.4 179.18,155.2 179.65,135.7 180.43,153.64 181.05,134.92 181.83,150.52 182.46,136.48 183.08,125.56 183.86,133.36 184.49,124 185.27,131.8 186.05,94.36 186.83,120.88 187.61,128.68 188.23,133.36 188.85,122.44 189.63,136.48 190.26,131.8 190.88,120.1 191.51,139.6 192.13,164.56 192.91,144.28 193.69,156.76 194.31,145.84 194.94,150.52 195.72,144.28 196.5,155.2 197.28,139.6 197.9,159.88 198.84,158.32 199.77,166.12 200.71,164.56 201.65,172.36 202.58,181.72 203.36,184.84 204.61,178.6 205.7,184.84 206.95,181.72 208.04,184.84 208.82,177.04 209.91,184.84 210.85,177.04 211.94,184.84 213.19,177.04 213.97,184.84 215.06,172.36 215.84,161.44 216.62,178.6 217.4,166.12 218.18,169.24 218.96,166.12 220.21,170.8 221.3,150.52 222.08,169.24 223.17,166.12 223.95,175.48 224.73,163 225.98,129.46 226.76,158.32 227.7,152.08 228.63,166.12 229.57,173.92 230.2,153.64 230.98,150.52 231.44,172.36 232.07,158.32 232.54,180.16 233.32,159.88 234.25,155.2 235.03,173.92 235.81,167.68 236.75,166.12 237.68,169.24 238.46,166.12 240.02,166.12 240.8,163 241.74,130.24 242.68,161.44 243.46,158.32 244.24,164.56 244.86,144.28 460.9,83.8 462.3,83.6 462.3,89.1 463.16,78.4 464.35,95.43 465.54,109.04 466.56,139.68 467.24,114.15 468.27,115.85 468.61,149.89 469.46,134.57 470.31,143.09 471.16,139.68 472.01,151.6 472.86,163.51 473.71,149.89 474.56,177.13 475.41,151.6 476.26,163.51 477.11,178.83 477.96,155 478.81,177.13 479.66,156.7 480.51,185.64 481.36,173.72 482.21,183.94 483.06,170.32 483.91,185.64 484.76,149.89 485.61,185.64 486.46,170.32 487.31,183.94 488.16,170.32 489.01,149.89 489.86,177.13 490.71,163.51 491.56,170.32 492.41,160.11 493.27,180.53 494.12,163.51 494.97,175.43 495.82,155 496.67,170.32 497.52,165.21 498.37,177.13 499.22,149.89 500.07,170.32 500.58,185.64 501.26,165.21 502.28,177.13 503.13,165.21 503.98,175.43 504.83,166.91 505.68,173.72 506.53,166.91 507.38,175.43 508.23,165.21 509.08,173.72 509.93,163.51 510.78,172.02 511.63,165.21 512.48,173.72 513.33,160.11 514.18,170.32 515.03,160.11 515.88,170.32 516.73,163.51 517.59,175.43 518.44,160.11 519.29,163.51 520.14,139.68 520.99,149.89 521.84,155 522.52,170.32 523.37,144.79 524.22,163.51 525.07,144.79 525.92,166.91 526.77,175.43 527.62,156.7 528.47,175.43 529.32,163.51 530.17,160.11 531.02,139.68 531.87,163.51 532.72,139.68 533.57,160.11 534.42,139.68 535.27,163.51 536.12,149.89 536.97,130.32 537.82,139.68 538.67,163.51 539.52,134.57 540.37,148.19 541.22,156.7 542.07,163.51 542.93,153.3 543.78,168.62 544.63,158.4 545.65,175.43 546.8,149.9 609.4,139.7 610.13,83.51 611.49,88.62 612.34,105.64 613.19,119.26 614.04,114.15 614.89,117.55 615.4,143.09 616.26,139.68 616.94,149.89 617.79,126.06 618.64,143.09 619.32,124.36 620,134.57 620.68,120.96 621.7,124.36 622.55,119.26 623.4,129.47 624.26,114.15 625.11,117.55 625.96,134.57 626.81,109.04 627.66,126.06 628.51,110.74 629.36,127.77 630.21,112.45 631.06,134.57 631.91,115.85 632.77,132.87 633.62,146.49 634.47,156.7 635.32,149.89 636.17,160.11 637.02,153.3 637.87,166.91 638.38,178.83 639.23,165.21 640.09,177.13 640.94,165.21 641.79,180.53 642.64,170.32 643.49,163.51 644.17,180.53 645.02,165.21 645.87,173.72 646.72,155 647.57,180.53 648.43,160.11 649.28,170.32 650.13,166.91 650.98,160.11 651.83,163.51 652.68,139.68 653.53,163.51 654.38,143.09 655.23,170.32 656.09,153.3 656.94,168.62 657.79,158.4 658.64,170.32 659.49,144.79 660.34,175.43 661.19,160.11 662.04,168.62 662.89,160.11 663.74,175.43 664.6,163.51 665.45,175.43 666.3,146.49 667.15,134.57 668,119.26 668.85,127.77 669.7,146.49 670.55,160.11 671.4,166.91 672.26,160.11 673.11,170.32 673.96,161.81 674.81,170.32 675.66,160.11 676.51,124.36 677.36,139.68 678.21,148.19 679.06,160.11 679.91,149.89 680.77,166.91 681.62,170.32 682.47,180.53 683.32,166.91 684.17,170.32 685.02,163.51 685.87,160.11 686.72,170.32 687.57,160.11 688.43,149.89 689.28,139.68 690.13,160.11 690.98,143.09 691.83,170.32 692.68,160.11 693.53,149.89 694.38,139.68 695.23,158.4 696.09,134.57 696.6,124.36 697.45,160.11 698.3,165.21 750.43,149.89 751.62,165.21 752.98,139.68 754.34,109.04 755.53,131.17 756.38,153.3 757.23,160.11 758.09,149.89 758.94,165.21 759.79,124.36 760.64,139.68 761.49,163.51 762.34,170.32 763.19,180.53 764.04,170.32 764.89,190.74 765.74,180.53 766.6,185.64 767.45,180.53 768.3,185.64 769.15,180.53 770,185.64 770.85,180.53 771.7,185.64 772.55,160.11 773.4,177.13 774.26,185.64 775.11,177.13 775.96,170.32 776.81,149.89 777.66,177.13 778.51,170.32 779.36,166.91 780.21,173.72 781.06,165.21 781.91,170.32 782.77,163.51 783.62,149.89 784.47,177.13 785.32,156.7 786.17,144.79 787.02,175.43 787.87,165.21 788.72,175.43 789.57,163.51 790.43,170.32 791.28,156.7 792.13,163.51 792.98,180.53 793.83,166.91 794.68,151.6 795.53,149.89 796.38,170.32 797.23,161.81 798.09,149.89 798.94,139.68 799.79,170.32 800.64,153.3 801.49,175.43 802.34,156.7 803.19,165.21 804.04,153.3 804.89,134.57 805.74,153.3 806.6,139.68 807.45,148.19 808.3,139.68 809.15,149.89 810,143.09 810.85,131.17 811.7,119.26 812.55,149.89 813.4,155 814.26,153.3 815.11,165.21 815.96,160.11 816.81,175.43 817.66,156.7 818.51,175.43 819.36,155 820.21,175.43 821.06,156.7 821.91,170.32 822.77,160.11 823.62,156.7 824.47,163.51 825.32,155 826.17,170.32 827.02,160.11 827.87,155 828.72,163.51 829.57,149.89 830.43,165.21 831.28,134.57 832.13,143.09 832.98,163.51 833.83,149.89 834.68,139.68 835.53,165.21 836.38,165.21 892.2,134.68 892.78,105.96 894.11,104.04 895.07,69.57 896.03,75.32 896.99,63.83 897.94,82.98 898.9,109.79 899.86,113.62 900.81,127.02 900.77,122.99 901.41,133.21 901.79,125.54 902.3,135.76 903.07,138.31 903.58,153.64 904.22,142.15 904.86,157.47 905.37,144.7 905.88,161.3 906.52,148.53 907.16,168.97 907.8,144.7 908.43,160.03 909.07,144.7 909.71,163.86 910.35,144.7 910.99,166.41 911.63,153.64 912.27,161.3 912.9,157.47 913.54,176.63 914.18,163.86 914.82,180.46 915.46,144.7 916.1,166.41 916.74,156.19 917.37,175.35 918.01,161.3 918.65,176.63 919.29,171.52 919.93,180.46 920.57,175.35 921.21,180.46 921.84,175.35 922.48,180.46 923.12,175.35 923.76,180.46 924.4,175.35 925.04,180.46 925.68,175.35 926.31,180.46 926.95,175.35 927.59,180.46 928.23,175.35 928.87,180.46 929.51,171.52 930.15,180.46 930.78,166.41 931.42,176.63 932.06,163.86 932.7,171.52 933.34,154.92 933.98,166.41 934.62,156.19 935.25,163.86 935.89,151.09 936.53,161.3 937.17,148.53 937.81,156.19 938.45,144.7 939.09,134.48 939.72,145.98 940.36,163.86 941,151.09 941.64,161.3 942.28,151.09 942.92,163.86 943.56,171.52 944.19,180.46 944.83,161.3 945.47,176.63 946.11,160.03 946.75,171.52 947.39,176.63 948.03,166.41 948.66,161.3 949.3,176.63 949.94,184.29 950.58,171.52 951.22,185.57 951.86,174.07 952.5,161.3 953.13,154.92 953.77,166.41 954.41,180.46 955.05,171.52 955.69,161.3 956.33,171.52 956.97,160.03 957.6,153.64 957.99,144.7 958.63,154.92 959.26,144.7 959.9,160.03 960.54,153.64 961.18,124.27 961.82,138.31 962.46,154.92 963.1,148.53 963.73,129.37 964.37,138.31 965.01,153.64 965.65,144.7 966.29,156.19 966.93,148.53 967.57,157.47 968.2,153.64 968.84,158.75 969.48,154.92 970.12,163.86 970.76,160.03 971.4,166.41 972.04,163.86 972.67,171.52 973.31,167.69 973.95,176.63 974.59,186.85 975.23,171.52 975.87,179.18 976.51,160.03 977.14,176.63 977.78,154.92 978.42,174.07 979.06,151.09 979.7,166.41 980.34,144.7 980.98,156.19 981.49,138.31 982.3,99.3 1186.07,72.77 1186.58,68.51 1187.26,94.04 1188.28,114.47 1189.13,111.06 1189.99,133.19 1190.84,111.06 1192.03,88.94 1192.88,102.55 1193.73,94.04 1194.58,116.17 1195.44,138.3 1196.29,109.36 1197.14,138.3 1197.99,109.36 1198.84,138.3 1199.69,119.57 1200.54,107.66 1201.4,99.15 1202.25,111.06 1203.1,104.26 1203.95,121.28 1204.8,141.7 1205.65,158.72 1206.51,145.11 1207.36,158.72 1208.21,140 1209.06,162.13 1209.91,145.11 1210.76,162.13 1211.61,145.11 1212.47,162.13 1213.32,158.72 1214.17,168.94 1215.02,157.02 1215.87,162.13 1216.72,155.32 1217.57,134.89 1218.43,165.53 1219.28,145.11 1220.13,168.94 1220.98,155.32 1221.83,168.94 1222.68,148.51 1223.54,155.32 1224.39,140 1225.24,160.43 1226.09,141.7 1226.94,138.3 1227.79,104.26 1228.64,128.09 1229.5,138.3 1230.35,119.57 1231.2,128.09 1232.05,124.68 1232.9,131.49 1233.75,104.26 1234.6,131.49 1235.46,119.57 1236.31,134.89 1237.16,121.28 1238.01,138.3 1238.86,119.57 1239.71,134.89 1240.57,122.98 1241.42,138.3 1242.27,121.28 1243.12,134.89 1243.97,121.28 1244.82,140 1245.67,119.57 1246.53,134.89 1247.38,121.28 1248.23,128.09 1249.08,114.47 1249.93,131.49 1250.78,99.15 1251.63,138.3 1252.49,111.06 1253.34,140 1254.19,99.15 1255.04,138.3 1255.89,114.47 1256.74,138.3 1257.6,114.47 1258.45,131.49 1259.3,73.62 1260.15,87.23 1261,104.26 1261.85,116.17 1262.7,129.79 1263.56,114.47 1264.41,138.3 1265.26,141.7 1266.11,141.7 1266.96,124.68 1267.81,104.26 1268.66,124.68 1269.52,116.17 1270.37,140 1271.22,148.51 1272.07,129.79 1272.92,150.21 1273.77,138.3 1274.63,124.68 1275.48,99.15 1276.33,148.51 1277.18,140 1278.03,129.79 1278.88,150.21 1279.73,145.11 1280.59,131.49 1281.44,155.32 1282.29,129.79 1283.14,151.91 1283.99,163.83 1284.84,155.32 1285.69,148.51 1286.55,114.47 1287.4,128.09 1288.25,155.32 1289.1,141.7 1289.95,134.89 1290.8,124.68"/>
<polyline class="ln ln2" points="160.93,175.48 161.55,178.6 162.49,140.38 163.11,155.2 163.74,179.38 164.67,166.12 165.3,179.38 166.23,166.12 167.17,169.24 167.79,180.16 168.73,166.9 169.51,180.16 170.29,155.98 171.07,158.32 171.54,164.56 172.16,145.06 172.78,153.64 173.41,114.64 174.34,147.4 174.97,144.28 175.75,169.24 176.37,147.4 177.15,158.32 177.93,169.24 178.4,147.4 179.18,155.2 179.65,135.7 180.43,153.64 181.05,134.92 181.83,150.52 182.46,136.48 183.08,125.56 183.86,133.36 184.49,124 185.27,131.8 186.05,94.36 186.83,120.88 187.61,128.68 188.23,133.36 188.85,122.44 189.63,136.48 190.26,131.8 190.88,120.1 191.51,139.6 192.13,164.56 192.91,144.28 193.69,156.76 194.31,145.84 194.94,150.52 195.72,144.28 196.5,155.2 197.28,139.6 197.9,159.88 198.84,158.32 199.77,166.12 200.71,164.56 201.65,172.36 202.58,181.72 203.36,184.84 204.61,178.6 205.7,184.84 206.95,181.72 208.04,184.84 208.82,177.04 209.91,184.84 210.85,177.04 211.94,184.84 213.19,177.04 213.97,184.84 215.06,172.36 215.84,161.44 216.62,178.6 217.4,166.12 218.18,169.24 218.96,166.12 220.21,170.8 221.3,150.52 222.08,169.24 223.17,166.12 223.95,175.48 224.73,163 225.98,129.46 226.76,158.32 227.7,152.08 228.63,166.12 229.57,173.92 230.2,153.64 230.98,150.52 231.44,172.36 232.07,158.32 232.54,180.16 233.32,159.88 234.25,155.2 235.03,173.92 235.81,167.68 236.75,166.12 237.68,169.24 238.46,166.12 240.02,166.12 240.8,163 241.74,130.24 242.68,161.44 243.46,158.32 244.24,164.56 244.86,144.28"/>
<polyline class="ln ln2" points="460.9,83.8 462.3,83.6 462.3,89.1 463.16,78.4 464.35,95.43 465.54,109.04 466.56,139.68 467.24,114.15 468.27,115.85 468.61,149.89 469.46,134.57 470.31,143.09 471.16,139.68 472.01,151.6 472.86,163.51 473.71,149.89 474.56,177.13 475.41,151.6 476.26,163.51 477.11,178.83 477.96,155 478.81,177.13 479.66,156.7 480.51,185.64 481.36,173.72 482.21,183.94 483.06,170.32 483.91,185.64 484.76,149.89 485.61,185.64 486.46,170.32 487.31,183.94 488.16,170.32 489.01,149.89 489.86,177.13 490.71,163.51 491.56,170.32 492.41,160.11 493.27,180.53 494.12,163.51 494.97,175.43 495.82,155 496.67,170.32 497.52,165.21 498.37,177.13 499.22,149.89 500.07,170.32 500.58,185.64 501.26,165.21 502.28,177.13 503.13,165.21 503.98,175.43 504.83,166.91 505.68,173.72 506.53,166.91 507.38,175.43 508.23,165.21 509.08,173.72 509.93,163.51 510.78,172.02 511.63,165.21 512.48,173.72 513.33,160.11 514.18,170.32 515.03,160.11 515.88,170.32 516.73,163.51 517.59,175.43 518.44,160.11 519.29,163.51 520.14,139.68 520.99,149.89 521.84,155 522.52,170.32 523.37,144.79 524.22,163.51 525.07,144.79 525.92,166.91 526.77,175.43 527.62,156.7 528.47,175.43 529.32,163.51 530.17,160.11 531.02,139.68 531.87,163.51 532.72,139.68 533.57,160.11 534.42,139.68 535.27,163.51 536.12,149.89 536.97,130.32 537.82,139.68 538.67,163.51 539.52,134.57 540.37,148.19 541.22,156.7 542.07,163.51 542.93,153.3 543.78,168.62 544.63,158.4 545.65,175.43 546.8,149.9"/>
<polyline class="ln ln2" points="609.4,139.7 610.13,83.51 611.49,88.62 612.34,105.64 613.19,119.26 614.04,114.15 614.89,117.55 615.4,143.09 616.26,139.68 616.94,149.89 617.79,126.06 618.64,143.09 619.32,124.36 620,134.57 620.68,120.96 621.7,124.36 622.55,119.26 623.4,129.47 624.26,114.15 625.11,117.55 625.96,134.57 626.81,109.04 627.66,126.06 628.51,110.74 629.36,127.77 630.21,112.45 631.06,134.57 631.91,115.85 632.77,132.87 633.62,146.49 634.47,156.7 635.32,149.89 636.17,160.11 637.02,153.3 637.87,166.91 638.38,178.83 639.23,165.21 640.09,177.13 640.94,165.21 641.79,180.53 642.64,170.32 643.49,163.51 644.17,180.53 645.02,165.21 645.87,173.72 646.72,155 647.57,180.53 648.43,160.11 649.28,170.32 650.13,166.91 650.98,160.11 651.83,163.51 652.68,139.68 653.53,163.51 654.38,143.09 655.23,170.32 656.09,153.3 656.94,168.62 657.79,158.4 658.64,170.32 659.49,144.79 660.34,175.43 661.19,160.11 662.04,168.62 662.89,160.11 663.74,175.43 664.6,163.51 665.45,175.43 666.3,146.49 667.15,134.57 668,119.26 668.85,127.77 669.7,146.49 670.55,160.11 671.4,166.91 672.26,160.11 673.11,170.32 673.96,161.81 674.81,170.32 675.66,160.11 676.51,124.36 677.36,139.68 678.21,148.19 679.06,160.11 679.91,149.89 680.77,166.91 681.62,170.32 682.47,180.53 683.32,166.91 684.17,170.32 685.02,163.51 685.87,160.11 686.72,170.32 687.57,160.11 688.43,149.89 689.28,139.68 690.13,160.11 690.98,143.09 691.83,170.32 692.68,160.11 693.53,149.89 694.38,139.68 695.23,158.4 696.09,134.57 696.6,124.36 697.45,160.11 698.3,165.21"/>
<polyline class="ln ln2" points="750.43,149.89 751.62,165.21 752.98,139.68 754.34,109.04 755.53,131.17 756.38,153.3 757.23,160.11 758.09,149.89 758.94,165.21 759.79,124.36 760.64,139.68 761.49,163.51 762.34,170.32 763.19,180.53 764.04,170.32 764.89,190.74 765.74,180.53 766.6,185.64 767.45,180.53 768.3,185.64 769.15,180.53 770,185.64 770.85,180.53 771.7,185.64 772.55,160.11 773.4,177.13 774.26,185.64 775.11,177.13 775.96,170.32 776.81,149.89 777.66,177.13 778.51,170.32 779.36,166.91 780.21,173.72 781.06,165.21 781.91,170.32 782.77,163.51 783.62,149.89 784.47,177.13 785.32,156.7 786.17,144.79 787.02,175.43 787.87,165.21 788.72,175.43 789.57,163.51 790.43,170.32 791.28,156.7 792.13,163.51 792.98,180.53 793.83,166.91 794.68,151.6 795.53,149.89 796.38,170.32 797.23,161.81 798.09,149.89 798.94,139.68 799.79,170.32 800.64,153.3 801.49,175.43 802.34,156.7 803.19,165.21 804.04,153.3 804.89,134.57 805.74,153.3 806.6,139.68 807.45,148.19 808.3,139.68 809.15,149.89 810,143.09 810.85,131.17 811.7,119.26 812.55,149.89 813.4,155 814.26,153.3 815.11,165.21 815.96,160.11 816.81,175.43 817.66,156.7 818.51,175.43 819.36,155 820.21,175.43 821.06,156.7 821.91,170.32 822.77,160.11 823.62,156.7 824.47,163.51 825.32,155 826.17,170.32 827.02,160.11 827.87,155 828.72,163.51 829.57,149.89 830.43,165.21 831.28,134.57 832.13,143.09 832.98,163.51 833.83,149.89 834.68,139.68 835.53,165.21 836.38,165.21"/>
<polyline class="ln ln2" points="892.2,134.68 892.78,105.96 894.11,104.04 895.07,69.57 896.03,75.32 896.99,63.83 897.94,82.98 898.9,109.79 899.86,113.62 900.81,127.02 900.77,122.99 901.41,133.21 901.79,125.54 902.3,135.76 903.07,138.31 903.58,153.64 904.22,142.15 904.86,157.47 905.37,144.7 905.88,161.3 906.52,148.53 907.16,168.97 907.8,144.7 908.43,160.03 909.07,144.7 909.71,163.86 910.35,144.7 910.99,166.41 911.63,153.64 912.27,161.3 912.9,157.47 913.54,176.63 914.18,163.86 914.82,180.46 915.46,144.7 916.1,166.41 916.74,156.19 917.37,175.35 918.01,161.3 918.65,176.63 919.29,171.52 919.93,180.46 920.57,175.35 921.21,180.46 921.84,175.35 922.48,180.46 923.12,175.35 923.76,180.46 924.4,175.35 925.04,180.46 925.68,175.35 926.31,180.46 926.95,175.35 927.59,180.46 928.23,175.35 928.87,180.46 929.51,171.52 930.15,180.46 930.78,166.41 931.42,176.63 932.06,163.86 932.7,171.52 933.34,154.92 933.98,166.41 934.62,156.19 935.25,163.86 935.89,151.09 936.53,161.3 937.17,148.53 937.81,156.19 938.45,144.7 939.09,134.48 939.72,145.98 940.36,163.86 941,151.09 941.64,161.3 942.28,151.09 942.92,163.86 943.56,171.52 944.19,180.46 944.83,161.3 945.47,176.63 946.11,160.03 946.75,171.52 947.39,176.63 948.03,166.41 948.66,161.3 949.3,176.63 949.94,184.29 950.58,171.52 951.22,185.57 951.86,174.07 952.5,161.3 953.13,154.92 953.77,166.41 954.41,180.46 955.05,171.52 955.69,161.3 956.33,171.52 956.97,160.03 957.6,153.64 957.99,144.7 958.63,154.92 959.26,144.7 959.9,160.03 960.54,153.64 961.18,124.27 961.82,138.31 962.46,154.92 963.1,148.53 963.73,129.37 964.37,138.31 965.01,153.64 965.65,144.7 966.29,156.19 966.93,148.53 967.57,157.47 968.2,153.64 968.84,158.75 969.48,154.92 970.12,163.86 970.76,160.03 971.4,166.41 972.04,163.86 972.67,171.52 973.31,167.69 973.95,176.63 974.59,186.85 975.23,171.52 975.87,179.18 976.51,160.03 977.14,176.63 977.78,154.92 978.42,174.07 979.06,151.09 979.7,166.41 980.34,144.7 980.98,156.19 981.49,138.31"/>
<polyline class="ln ln2" points="1186.07,72.77 1186.58,68.51 1187.26,94.04 1188.28,114.47 1189.13,111.06 1189.99,133.19 1190.84,111.06 1192.03,88.94 1192.88,102.55 1193.73,94.04 1194.58,116.17 1195.44,138.3 1196.29,109.36 1197.14,138.3 1197.99,109.36 1198.84,138.3 1199.69,119.57 1200.54,107.66 1201.4,99.15 1202.25,111.06 1203.1,104.26 1203.95,121.28 1204.8,141.7 1205.65,158.72 1206.51,145.11 1207.36,158.72 1208.21,140 1209.06,162.13 1209.91,145.11 1210.76,162.13 1211.61,145.11 1212.47,162.13 1213.32,158.72 1214.17,168.94 1215.02,157.02 1215.87,162.13 1216.72,155.32 1217.57,134.89 1218.43,165.53 1219.28,145.11 1220.13,168.94 1220.98,155.32 1221.83,168.94 1222.68,148.51 1223.54,155.32 1224.39,140 1225.24,160.43 1226.09,141.7 1226.94,138.3 1227.79,104.26 1228.64,128.09 1229.5,138.3 1230.35,119.57 1231.2,128.09 1232.05,124.68 1232.9,131.49 1233.75,104.26 1234.6,131.49 1235.46,119.57 1236.31,134.89 1237.16,121.28 1238.01,138.3 1238.86,119.57 1239.71,134.89 1240.57,122.98 1241.42,138.3 1242.27,121.28 1243.12,134.89 1243.97,121.28 1244.82,140 1245.67,119.57 1246.53,134.89 1247.38,121.28 1248.23,128.09 1249.08,114.47 1249.93,131.49 1250.78,99.15 1251.63,138.3 1252.49,111.06 1253.34,140 1254.19,99.15 1255.04,138.3 1255.89,114.47 1256.74,138.3 1257.6,114.47 1258.45,131.49 1259.3,73.62 1260.15,87.23 1261,104.26 1261.85,116.17 1262.7,129.79 1263.56,114.47 1264.41,138.3 1265.26,141.7 1266.11,141.7 1266.96,124.68 1267.81,104.26 1268.66,124.68 1269.52,116.17 1270.37,140 1271.22,148.51 1272.07,129.79 1272.92,150.21 1273.77,138.3 1274.63,124.68 1275.48,99.15 1276.33,148.51 1277.18,140 1278.03,129.79 1278.88,150.21 1279.73,145.11 1280.59,131.49 1281.44,155.32 1282.29,129.79 1283.14,151.91 1283.99,163.83 1284.84,155.32 1285.69,148.51 1286.55,114.47 1287.4,128.09 1288.25,155.32 1289.1,141.7 1289.95,134.89 1290.8,124.68"/>
<polyline class="ln" points="160.2,400.12 167.6,400.12 168.1,384.04 169.8,384.04 170.4,400.12 177.2,400.12 177.9,384.04 181.1,384.04 181.7,400.12 187.5,400.12 188.3,416.2 196.4,416.2 197,400.12 201.5,400.12 202.4,384.04 227.9,384.04 228.8,367.96 235.6,367.96 236.4,384.04 244.1,384.04 244.9,400.12 461.3,384.04 462.3,384.04 463,400.12 466,400.12 466.8,384.04 468.8,384.04 469.6,400.12 472.3,400.12 473,416.2 476.7,416.2 477.5,432.28 481.7,432.28 482.4,416.2 483,432.28 494.6,432.28 495.4,416.2 515.4,416.2 516.2,400.12 528.8,400.12 529.5,416.2 537.8,416.2 538.5,432.28 544,432.28 544.8,416.2 548.2,416.2 609.1,432.28 612.8,432.28 613.7,416.2 621.5,416.2 622.4,432.28 624.6,432.28 625.3,448.36 626.1,448.36 626.9,432.28 627.7,432.28 629,416.2 629.9,416.2 630.6,400.12 636.5,400.12 637.1,384.04 653.9,384.04 654.7,400.12 676.9,400.12 677.5,416.2 684.1,416.2 684.7,400.12 698.1,400.12 750.4,416.2 751.7,432.28 754.4,432.28 755.3,448.36 765.9,448.36 766.7,464.44 774.5,464.44 775.2,448.36 776.8,448.36 777.6,432.28 779.4,432.28 780.2,416.2 783,416.2 783.8,400.12 792.8,400.12 793.9,384.04 814,384.04 814.8,367.96 825.1,367.96 825.9,384.04 836,384.04 892,432.28 903.1,432.28 903.9,448.36 908.8,448.36 909.6,464.44 910.3,464.44 910.8,448.36 913.2,448.36 914.5,432.28 915.6,432.28 916.5,416.2 918.9,416.2 919.7,400.12 924.3,400.12 925.4,384.04 929.5,384.04 930.3,400.12 935.2,400.12 936,384.04 956.9,384.04 957.7,400.12 969,400.12 969.8,384.04 981.7,384.04 1185.9,448.36 1188.9,448.36 1189.8,464.44 1196.8,464.44 1197.8,448.36 1200.8,448.36 1201.4,432.28 1202.2,448.36 1208.7,448.36 1209.7,464.44 1211.7,464.44 1212.7,480.52 1218.6,480.52 1219.6,464.44 1220.6,464.44 1221.6,448.36 1222.6,448.36 1223.2,432.28 1224,432.28 1224.6,416.2 1228.6,416.2 1229.5,400.12 1238.1,400.12 1239.1,384.04 1240.5,384.04 1241.5,367.96 1248.4,367.96 1249.4,351.88 1258.3,351.88 1259.3,367.96 1263.3,367.96 1264.3,384.04 1267.7,384.04 1268.7,400.12 1270.2,400.12 1271.2,384.04 1285.7,384.04 1287.1,400.12 1291.5,400.12"/>
</g>
<text class="bl" text-anchor="middle" transform="translate(201.5,655.8) scale(1.04,1.0)" textLength="88.02" lengthAdjust="spacingAndGlyphs">Screen 1</text>
<text class="bl" text-anchor="middle" transform="translate(351,655.8) scale(1.04,1.0)" textLength="44.45" lengthAdjust="spacingAndGlyphs">Rest</text>
<text class="bl" text-anchor="middle" transform="translate(504.5,655.8) scale(1.04,1.0)" textLength="88.02" lengthAdjust="spacingAndGlyphs">Screen 2</text>
<text class="bl" text-anchor="middle" transform="translate(578.75,655.8) scale(1.04,1.0)" textLength="44.45" lengthAdjust="spacingAndGlyphs">Rest</text>
<text class="bl" text-anchor="middle" transform="translate(653.25,655.8) scale(1.04,1.0)" textLength="88.02" lengthAdjust="spacingAndGlyphs">Screen 3</text>
<text class="bl" text-anchor="middle" transform="translate(723.5,655.8) scale(1.04,1.0)" textLength="44.45" lengthAdjust="spacingAndGlyphs">Rest</text>
<text class="bl" text-anchor="middle" transform="translate(794,655.8) scale(1.04,1.0)" textLength="88.02" lengthAdjust="spacingAndGlyphs">Screen 4</text>
<text class="bl" text-anchor="middle" transform="translate(865,655.8) scale(1.04,1.0)" textLength="44.45" lengthAdjust="spacingAndGlyphs">Rest</text>
<text class="bl" text-anchor="middle" transform="translate(936,655.8) scale(1.04,1.0)" textLength="88.02" lengthAdjust="spacingAndGlyphs">Screen 5</text>
<text class="bl" text-anchor="middle" transform="translate(1082,655.8) scale(1.04,1.0)" textLength="44.45" lengthAdjust="spacingAndGlyphs">Rest</text>
<text class="bl" text-anchor="middle" transform="translate(1238.2,655.8) scale(1.04,1.0)" textLength="88.02" lengthAdjust="spacingAndGlyphs">Screen 9</text>
</svg>
</body></html>
